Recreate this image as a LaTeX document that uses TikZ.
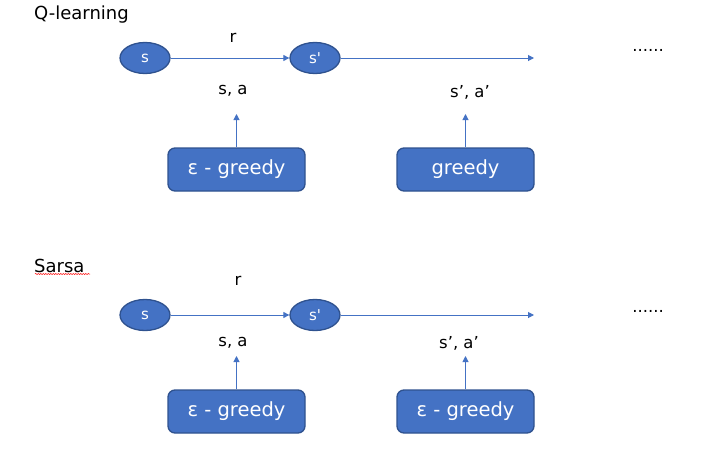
\documentclass[tikz,border=0pt]{standalone}
\usepackage{fontspec}
\setmainfont{DejaVu Sans}
\usetikzlibrary{arrows.meta,decorations.pathmorphing,shapes.geometric}
\definecolor{bfill}{HTML}{4472C4}
\definecolor{bdraw}{HTML}{2F528F}
\definecolor{aline}{HTML}{4472C4}
\tikzset{
  stnode/.style={ellipse, fill=bfill, draw=bdraw, line width=1.3pt, minimum width=50pt, minimum height=31pt, inner sep=0pt, text=white, font=\fontsize{15}{15}\selectfont},
  polbox/.style={rectangle, rounded corners=7pt, fill=bfill, draw=bdraw, line width=1.3pt, minimum width=137pt, minimum height=43pt, inner sep=0pt, text=white, font=\fontsize{19.5}{20}\selectfont},
  lbl/.style={inner sep=0pt, font=\fontsize{16.5}{17}\selectfont},
  ttl/.style={inner sep=0pt, anchor=west, font=\fontsize{18}{18}\selectfont},
  flow/.style={draw=aline, line width=1pt, -{Triangle[length=6pt,width=6pt]}}
}
\begin{document}
\begin{tikzpicture}[x=1pt,y=-1pt]
\useasboundingbox (0,0) rectangle (720,450);
% Q-learning
\node[ttl] (qt) at (34,15) {Q-learning};
\node[stnode] (qs) at (145,58) {s};
\node[stnode] (qs2) at (315,58) {s\textquotesingle};
\coordinate (qend) at (534,58);
\node[lbl] (qr) at (233,38) {r};
\node[lbl] (qsa) at (233,91) {s, a};
\node[lbl] (qsa2) at (470,92) {s’, a’};
\node[lbl] (qdots) at (648,50) {......};
\node[polbox] (qb1) at (236.5,169.5) {ε - greedy};
\node[polbox] (qb2) at (465.5,169.5) {greedy};
\coordinate (qa1) at (236.5,114);
\coordinate (qa2) at (465.5,114);
\draw[flow] (qs) -- (qs2);
\draw[flow] (qs2) -- (qend);
\draw[flow] (qb1) -- (qa1);
\draw[flow] (qb2) -- (qa2);
% Sarsa
\node[ttl] (st) at (34,266) {Sarsa};
\draw[red, line width=0.5pt, decorate, decoration={snake, amplitude=0.6pt, segment length=2.5pt}] (35,274) -- (90,274);
\node[stnode] (ss) at (145,315) {s};
\node[stnode] (ss2) at (315,315) {s\textquotesingle};
\coordinate (send) at (534,315);
\node[lbl] (sr) at (238,281) {r};
\node[lbl] (ssa) at (233,343) {s, a};
\node[lbl] (ssa2) at (459,343) {s’, a’};
\node[lbl] (sdots) at (648,311) {......};
\node[polbox] (sb1) at (236.5,411.5) {ε - greedy};
\node[polbox] (sb2) at (465.5,411.5) {ε - greedy};
\coordinate (sa1) at (236.5,356);
\coordinate (sa2) at (465.5,356);
\draw[flow] (ss) -- (ss2);
\draw[flow] (ss2) -- (send);
\draw[flow] (sb1) -- (sa1);
\draw[flow] (sb2) -- (sa2);
\end{tikzpicture}
\end{document}
